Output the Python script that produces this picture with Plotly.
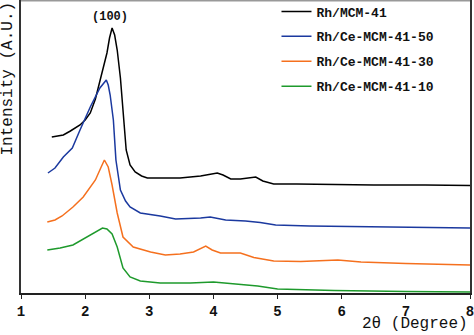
import plotly.graph_objects as go

# 2-theta positions (degrees) and intensities (arbitrary units, offset for stacking)
x_mcm = [1.48, 1.58, 1.66, 1.77, 1.92, 2.00, 2.08, 2.16, 2.23, 2.30, 2.34, 2.38, 2.42, 2.46, 2.50,
         2.55, 2.58, 2.64, 2.70, 2.78, 2.88, 2.97, 3.20, 3.48, 3.80, 4.00, 4.06, 4.15, 4.27, 4.42,
         4.55, 4.66, 4.77, 4.94, 5.30, 5.67, 6.50, 7.30, 8.00]
y_mcm = [156, 157, 158, 162, 168, 173, 180, 194, 213, 232, 240, 255, 265, 258, 243,
         215, 193, 143, 128, 121, 117, 115, 115, 115, 117, 119, 120, 118, 114, 114,
         115, 116, 112, 109, 109, 108.5, 108, 108, 107.5]

x_ce50 = [1.42, 1.53, 1.66, 1.80, 1.92, 2.08, 2.23, 2.29, 2.33, 2.36, 2.39, 2.44, 2.48, 2.55,
          2.63, 2.70, 2.86, 3.17, 3.41, 3.80, 3.95, 4.19, 4.50, 4.73, 4.97, 5.50, 6.14, 7.00, 8.00]
y_ce50 = [120, 125, 136, 145, 163, 186, 205, 210, 213, 208, 198, 173, 133, 103,
          92, 86, 80, 77, 74, 75, 76, 73, 72, 70.5, 68, 67, 66.5, 66, 65]

x_ce30 = [1.41, 1.53, 1.64, 1.81, 1.97, 2.16, 2.25, 2.30, 2.36, 2.42, 2.50, 2.59, 2.75, 3.02,
          3.25, 3.48, 3.69, 3.88, 3.98, 4.11, 4.42, 4.63, 4.94, 5.36, 5.94, 6.30, 7.00, 8.00]
y_ce30 = [71, 73, 77, 86, 96, 113, 126, 133, 126, 108, 80, 56, 46, 41,
          38, 39, 41, 47, 43, 40, 40, 35.5, 32, 31.5, 33, 31, 29.5, 28]

x_ce10 = [1.41, 1.61, 1.81, 2.03, 2.16, 2.27, 2.34, 2.42, 2.50, 2.59, 2.70, 2.86, 3.17, 3.64,
          4.00, 4.42, 4.69, 5.00, 5.88, 7.00, 8.00]
y_ce10 = [43, 45, 48, 56, 61, 65, 64, 59, 46, 25, 16, 12, 10, 10,
          11, 8.5, 7, 4, 2.5, 1.5, 1]

series = [
    ("Rh/MCM-41", x_mcm, y_mcm, "#000000"),
    ("Rh/Ce-MCM-41-50", x_ce50, y_ce50, "#1b399f"),
    ("Rh/Ce-MCM-41-30", x_ce30, y_ce30, "#f5701e"),
    ("Rh/Ce-MCM-41-10", x_ce10, y_ce10, "#1e9a2c"),
]

x_ticks = [1, 2, 3, 4, 5, 6, 7, 8]

mono = "Liberation Mono, Courier New, monospace"

fig = go.Figure()
for name, xs, ys, color in series:
    fig.add_trace(go.Scatter(x=xs, y=ys, mode="lines", name=name, legendgroup=name,
                             line=dict(color=color, width=1.5)))

fig.update_layout(
    width=474, height=335,
    margin=dict(l=21, r=4, t=0, b=42, autoexpand=False),
    paper_bgcolor="white", plot_bgcolor="white",
    showlegend=True,
    legend=dict(x=0.569, y=1.012, xanchor="left", yanchor="top",
                bgcolor="rgba(0,0,0,0)", borderwidth=0,
                font=dict(family=mono, size=13, color="#111", weight="bold"),
                itemwidth=30, tracegroupgap=5),
    xaxis=dict(range=[1, 8], tickvals=x_ticks, ticks="outside", ticklen=4,
               tickcolor="#222", showline=True, linecolor="#222", linewidth=1.5,
               showgrid=False, zeroline=False, ticklabeloverflow="allow",
               automargin=False,
               tickfont=dict(family=mono, size=14, color="#111", weight="bold")),
    yaxis=dict(range=[0, 293], showticklabels=False, ticks="", showline=True,
               linecolor="#333", linewidth=1.5, mirror=True, automargin=False,
               showgrid=False, zeroline=False),
    annotations=[
        dict(text="(100)", x=2.39, y=276, xref="x", yref="y", showarrow=False,
             font=dict(family=mono, size=12, color="#111", weight="bold")),
        dict(text="Intensity (A.U.)", textangle=-90, x=-0.03, y=1.0,
             xref="paper", yref="paper", xanchor="center", yanchor="top",
             showarrow=False, font=dict(family=mono, size=16, color="#111")),
        dict(text="2θ (Degree)", x=1.0, y=-0.1433, xref="paper", yref="paper",
             xanchor="right", yanchor="bottom", showarrow=False,
             font=dict(family=mono, size=16, color="#111")),
    ],
    shapes=[dict(type="line", xref="paper", yref="paper", x0=0, x1=1, y0=1, y1=1,
                 line=dict(color="#999", width=3))],
)

fig.write_html("out.html")
